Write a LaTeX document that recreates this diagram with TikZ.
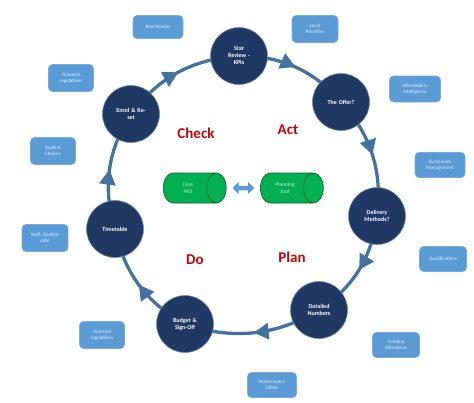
\documentclass[tikz,border=0pt]{standalone}
\usepackage{fontspec}
\setmainfont{Carlito}
\usetikzlibrary{shapes.geometric,arrows.meta,decorations.markings,backgrounds}
\definecolor{ring}{RGB}{68,114,160}
\definecolor{navy}{RGB}{31,56,100}
\definecolor{boxblue}{RGB}{91,155,213}
\definecolor{boxedge}{RGB}{120,170,220}
\definecolor{cylgreen}{RGB}{0,176,80}
\definecolor{cyledge}{RGB}{20,90,40}
\definecolor{lblred}{RGB}{204,0,0}
\tikzset{
  stage/.style={circle,fill=navy,draw=navy!60!white,line width=0.6pt,minimum size=57pt,inner sep=0pt,
    text=white,font=\fontsize{6}{7}\selectfont\bfseries,align=center,text width=40pt},
  info/.style={rectangle,rounded corners=4pt,fill=boxblue,draw=boxedge,line width=0.6pt,
    text=white!85!boxblue,font=\fontsize{5}{5.8}\selectfont,align=center,inner sep=1pt},
  store/.style={cylinder,shape aspect=1.6,fill=cylgreen,draw=cyledge,line width=0.6pt,
    minimum width=30pt,minimum height=63pt,text=white!80!cylgreen,font=\fontsize{5.5}{6.5}\selectfont,align=center,inner sep=1pt},
  cyc/.style={draw=ring,line width=3.3pt,bend left=25,looseness=0.95,
    postaction={decorate},decoration={markings,mark=at position 0.5 with {\arrow[ring]{Triangle[length=15pt,width=16pt]}}}},
  phase/.style={text=lblred,font=\fontsize{15}{17}\selectfont\bfseries}
}
\begin{document}
\begin{tikzpicture}[x=1pt,y=-1pt]
\useasboundingbox (0,0) rectangle (474,402);
% stages
\node[stage] (stat) at (239,56) {Stat\\Review -\\KPIs};
\node[stage] (offer) at (341,102) {The Offer?};
\node[stage] (deliv) at (377,216) {Delivery\\Methods?};
\node[stage] (detail) at (319,310) {Detailed\\Numbers};
\node[stage] (budget) at (185,324) {Budget \&\\Sign-Off};
\node[stage] (time) at (115,229) {Timetable};
\node[stage] (enrol) at (131,114) {Enrol \& Re-\\set};
\begin{scope}[on background layer]
\draw[cyc] (stat.center) to (offer.center);
\draw[cyc] (offer.center) to (deliv.center);
\draw[cyc] (deliv.center) to (detail.center);
\draw[cyc] (detail.center) to (budget.center);
\draw[cyc] (budget.center) to (time.center);
\draw[cyc] (time.center) to (enrol.center);
\draw[cyc] (enrol.center) to (stat.center);
\end{scope}
% info boxes
\node[info,minimum width=50pt,minimum height=23pt] (b1) at (158,27) {Benchmarks};
\node[info,minimum width=46pt,minimum height=27pt] (b2) at (315,29) {Local\\Priorities};
\node[info,minimum width=45pt,minimum height=27pt] (b3) at (71,78) {Financial\\regulations};
\node[info,minimum width=51pt,minimum height=26pt] (b4) at (415,89) {Affordability\\Intelligence};
\node[info,minimum width=45pt,minimum height=27pt] (b5) at (53,151) {Student\\Choices};
\node[info,minimum width=50pt,minimum height=25pt] (b6) at (440,165) {Curriculum\\Management};
\node[info,minimum width=46pt,minimum height=27pt] (b7) at (45,238) {Staff: Student\\ratio};
\node[info,minimum width=47pt,minimum height=25pt] (b8) at (443,259) {Qualifications};
\node[info,minimum width=45pt,minimum height=27pt] (b9) at (102,335) {Financial\\regulations};
\node[info,minimum width=47pt,minimum height=25pt] (b10) at (396,345) {Funding\\Allocations};
\node[info,minimum width=49pt,minimum height=25pt] (b11) at (272,385) {Performance\\Tables};
% phases
\node[phase] (check) at (196,133) {Check};
\node[phase] (act) at (288,130) {Act};
\node[phase] (do) at (195,260) {Do};
\node[phase] (plan) at (292,257) {Plan};
% systems
\node[store] (mis) at (188,188) {Core\\MIS};
\node[store] (tool) at (285,188) {Planning\\tool};
\draw[draw=boxblue,line width=4.5pt,{Triangle[length=6pt,width=12pt]}-{Triangle[length=6pt,width=12pt]},
  shorten <=6pt,shorten >=6pt] (mis.east) -- (tool.west);
\end{tikzpicture}
\end{document}
